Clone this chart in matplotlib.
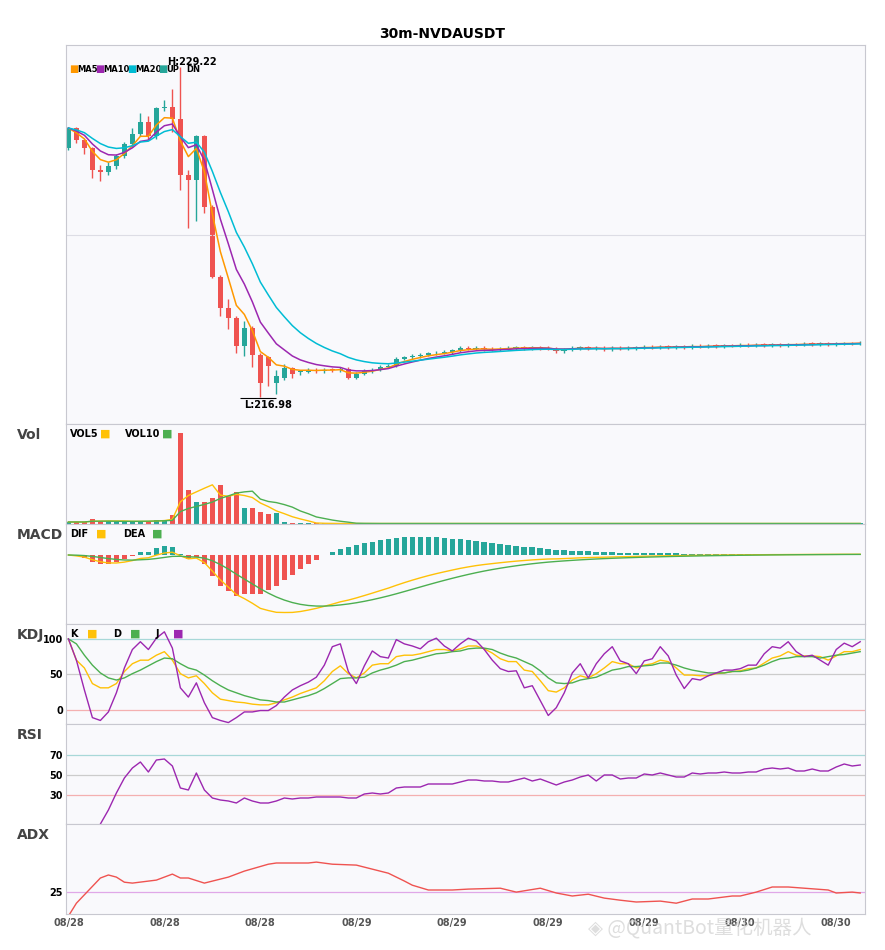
import numpy as np
import pandas as pd
import matplotlib
matplotlib.use('Agg')
import matplotlib.pyplot as plt

plt.rcParams['font.family'] = ['DejaVu Sans', 'Noto Sans CJK SC']

# ---- candle data (30m NVDAUSDT) ----
head_open = [226.22, 226.96, 226.51, 226.22, 225.40, 225.33, 225.55, 225.92, 226.36, 226.73,
             227.18, 226.66, 227.70, 227.75, 227.30, 225.21, 225.03, 226.66, 224.03, 221.43,
             220.28, 219.91, 218.87, 219.54, 218.54, 218.46, 217.50, 217.68, 218.05, 217.90]
head_close = [226.96, 226.51, 226.22, 225.40, 225.33, 225.55, 225.92, 226.36, 226.73, 227.18,
              226.66, 227.70, 227.75, 227.30, 225.21, 225.03, 226.66, 224.03, 221.43, 220.28,
              219.91, 218.87, 219.54, 218.54, 217.50, 218.13, 217.76, 218.05, 217.83, 217.92]
head_high = [227.00, 226.98, 226.55, 226.25, 225.60, 225.70, 226.00, 226.45, 226.95, 227.50,
             227.40, 227.75, 228.00, 228.40, 229.22, 225.40, 226.70, 226.70, 224.10, 221.50,
             220.60, 220.00, 219.80, 219.60, 218.60, 218.50, 218.00, 218.20, 218.10, 218.00]
head_low = [226.15, 226.40, 226.00, 225.10, 225.00, 225.20, 225.45, 225.85, 226.25, 226.65,
            226.50, 226.55, 227.60, 226.80, 224.66, 223.25, 223.50, 223.80, 221.40, 220.00,
            219.50, 218.60, 218.50, 218.10, 216.98, 217.40, 217.10, 217.60, 217.70, 217.80]
tail_close = [217.98, 217.95, 218.00, 217.98, 218.02, 217.70, 217.85, 217.95, 218.00, 218.10,
              218.15, 218.40, 218.45, 218.50, 218.55, 218.60, 218.62, 218.65, 218.72, 218.80,
              218.78, 218.80, 218.76, 218.74, 218.78, 218.80, 218.82, 218.80, 218.83, 218.80,
              218.78, 218.68, 218.75, 218.80, 218.82, 218.78, 218.80, 218.76, 218.80, 218.78,
              218.80, 218.82, 218.84, 218.82, 218.85, 218.83, 218.86, 218.84, 218.87, 218.85,
              218.88, 218.87, 218.90, 218.88, 218.91, 218.89, 218.92, 218.90, 218.93, 218.91,
              218.94, 218.93, 218.95, 218.94, 218.96, 218.95, 218.97, 218.98, 218.97, 218.99]
volume = [2, 2, 2, 5, 3, 3, 2, 2, 3, 3, 3, 4, 4, 9, 90, 34, 22, 22, 26, 39,
          28, 32, 16, 16, 12, 10, 11, 2, 1, 1] + [0.5] * 70

# ---- indicator values ----
kdj_k = [100, 70, 59, 37, 31, 31, 37, 54, 65, 70, 70, 77, 82, 70, 51, 45, 48, 37, 24, 15,
         13, 11, 10, 8, 7, 7, 10, 14, 18, 23, 27, 31, 41, 54, 62, 51, 45, 52, 63, 65,
         65, 75, 77, 77, 79, 82, 85, 85, 83, 86, 90, 90, 86, 80, 72, 68, 68, 56, 54, 41,
         27, 25, 31, 42, 48, 45, 51, 59, 68, 65, 65, 59, 63, 65, 70, 68, 59, 49, 49, 48,
         48, 51, 52, 54, 55, 58, 59, 66, 73, 76, 82, 77, 76, 76, 75, 70, 76, 82, 82, 85]
kdj_d = [100, 93, 77, 63, 52, 45, 42, 45, 51, 56, 62, 68, 73, 72, 65, 59, 56, 49, 41, 34,
         28, 24, 20, 17, 14, 13, 11, 11, 14, 17, 20, 24, 30, 37, 44, 45, 45, 46, 52, 56,
         59, 63, 68, 70, 73, 76, 79, 80, 82, 83, 86, 87, 87, 85, 80, 76, 73, 68, 63, 55,
         45, 38, 37, 38, 42, 44, 46, 51, 56, 58, 61, 61, 62, 63, 66, 66, 63, 59, 56, 54,
         52, 52, 52, 54, 54, 56, 59, 63, 68, 72, 73, 75, 75, 75, 73, 75, 77, 78, 80, 82]
kdj_j = [100, 70, 28, -11, -15, -3, 24, 59, 85, 96, 85, 101, 110, 87, 31, 18, 38, 10, -11, -15,
         -18, -11, -3, -3, -1, -1, 6, 18, 28, 34, 39, 46, 63, 89, 93, 54, 37, 62, 83, 75,
         73, 99, 93, 90, 86, 96, 101, 90, 83, 93, 101, 97, 85, 70, 58, 54, 55, 31, 34, 13,
         -8, 3, 24, 52, 65, 45, 65, 79, 89, 69, 65, 51, 69, 72, 89, 76, 49, 30, 44, 42,
         48, 52, 56, 56, 58, 63, 63, 79, 89, 87, 96, 82, 75, 77, 70, 63, 85, 94, 89, 96]
rsi_start = 4
rsi_vals = [1, 15, 32, 47, 57, 63, 53, 65, 66, 59, 37, 35, 52, 35, 27, 25, 24, 22, 27, 24,
            22, 22, 24, 27, 26, 27, 27, 28, 28, 28, 28, 27, 27, 31, 32, 31, 32, 37, 38, 38,
            38, 41, 41, 41, 41, 43, 45, 45, 44, 44, 43, 43, 45, 47, 44, 46, 43, 40, 43, 45,
            48, 50, 44, 50, 50, 46, 47, 47, 51, 50, 52, 50, 48, 48, 52, 51, 52, 52, 53, 52,
            52, 53, 53, 56, 57, 56, 57, 54, 54, 56, 54, 54, 58, 61, 59, 60]
adx_idx = [0, 1, 4, 5, 6, 7, 8, 11, 13, 14, 15, 17, 20, 22, 25, 26, 30, 31, 33, 36, 40, 42, 43,
           45, 48, 50, 54, 56, 59, 61, 63, 65, 67, 69, 71, 74, 76, 78, 80, 83, 84, 86, 88,
           90, 92, 95, 96, 98, 99]
adx_vals = [17.0, 21.3, 29.7, 30.7, 30.0, 28.3, 28.0, 29.0, 31.0, 29.7, 29.7, 28.0, 30.0, 32.0,
            34.3, 34.7, 34.7, 35.0, 34.3, 34.0, 31.3, 28.7, 27.3, 25.7, 25.7, 26.0, 26.3, 25.0,
            26.3, 24.7, 23.7, 24.3, 23.0, 22.3, 21.7, 22.0, 21.3, 22.7, 22.7, 23.7, 23.7, 25.0,
            26.7, 26.7, 26.3, 25.7, 24.7, 25.0, 24.7]

tick_pos = [0, 12, 24, 36, 48, 60, 72, 84, 96]
tick_labels = ['08/28', '08/28', '08/28', '08/29', '08/29', '08/29', '08/29', '08/30', '08/30']

UP, DN = '#26a69a', '#ef5350'

# assemble OHLC
opens = list(head_open)
closes = list(head_close)
highs = list(head_high)
lows = list(head_low)
for cl in tail_close:
    o = closes[-1]
    opens.append(o)
    closes.append(cl)
    highs.append(max(o, cl) + 0.06)
    lows.append(min(o, cl) - 0.06)
df = pd.DataFrame({'o': opens, 'h': highs, 'l': lows, 'c': closes, 'v': volume})
n = len(df)
x = np.arange(n)
c = df['c']

# moving averages / MACD from the candles
ma5 = c.ewm(span=4, adjust=False).mean()
ma10 = c.ewm(span=7, adjust=False).mean()
ma20 = c.ewm(span=12, adjust=False).mean()
vol5 = df['v'].rolling(5, min_periods=1).mean()
vol10 = df['v'].rolling(10, min_periods=1).mean()
dif = c.ewm(span=12, adjust=False).mean() - c.ewm(span=26, adjust=False).mean()
dea = dif.ewm(span=9, adjust=False).mean()
hist = 2 * (dif - dea)

fig = plt.figure(figsize=(8.85, 9.5), dpi=100)
W, H = 885, 950
L, R = 66, 865


def panel(top, bot):
    ax = fig.add_axes([L / W, 1 - bot / H, (R - L) / W, (bot - top) / H])
    ax.set_facecolor('#f9f9fc')
    for s in ax.spines.values():
        s.set_color('#c8c8d0')
    ax.set_xlim(-0.3, n - 0.4)
    ax.set_xticks([])
    ax.tick_params(axis='y', length=0, labelsize=7, pad=2)
    return ax


def bold_ticks(ax):
    for lbl in ax.get_yticklabels():
        lbl.set_fontweight('bold')


def label(txt, top):
    fig.text(17 / W, 1 - (top + 11) / H, txt, fontsize=10, fontweight='bold', color='#444444', va='center')


colors = [UP if cc >= oo else DN for oo, cc in zip(opens, closes)]

# main
ax = panel(45, 424)
ax.set_ylim(215.98, 230.04)
ax.set_yticks([])
ax.axhline(223.0, color='#dddde5', lw=0.8)
body = [abs(cc - oo) if abs(cc - oo) > 0.03 else 0.03 for oo, cc in zip(opens, closes)]
ax.vlines(x, df['l'], df['h'], color=colors, lw=1)
ax.bar(x, body, bottom=np.minimum(opens, closes), width=0.7, color=colors)
ax.plot(x, ma5, color='#ff9800', lw=1.1)
ax.plot(x, ma10, color='#9c27b0', lw=1.1)
ax.plot(x, ma20, color='#00bcd4', lw=1.1)
ax.text(15.5, 229.22, 'H:229.22', fontsize=7, fontweight='bold', ha='center', va='bottom')
imin = int(np.argmin(lows))
ax.hlines(lows[imin] - 0.02, imin - 2.5, imin + 2, color='black', lw=0.8)
ax.text(imin + 1, lows[imin] - 0.12, 'L:216.98', fontsize=7, fontweight='bold', ha='center', va='top')
leg = [('MA5', '#ff9800', 69), ('MA10', '#9c27b0', 95), ('MA20', '#00bcd4', 127)]
for name, col, px in leg:
    fig.text(px / W, 1 - 69 / H, '■', color=col, fontsize=7, va='center')
    fig.text((px + 8) / W, 1 - 69 / H, name, fontsize=6, fontweight='bold', va='center')
fig.text(158 / W, 1 - 69 / H, '■', color=UP, fontsize=7, va='center')
fig.text(166 / W, 1 - 69 / H, 'UP', fontsize=6, fontweight='bold', va='center')
fig.text(186 / W, 1 - 69 / H, 'DN', fontsize=6, fontweight='bold', va='center')

# volume
ax = panel(424, 524)
label('Vol', 424)
ax.set_ylim(0, 99)
ax.set_yticks([])
ax.bar(x, df['v'], width=0.7, color=colors)
ax.plot(x, vol5, color='#ffc107', lw=1)
ax.plot(x, vol10, color='#4caf50', lw=1)
fig.text(70 / W, 1 - 434 / H, 'VOL5', fontsize=7, fontweight='bold', va='center')
fig.text(100 / W, 1 - 434 / H, '■', color='#ffc107', fontsize=8, va='center')
fig.text(125 / W, 1 - 434 / H, 'VOL10', fontsize=7, fontweight='bold', va='center')
fig.text(162 / W, 1 - 434 / H, '■', color='#4caf50', fontsize=8, va='center')

# MACD
ax = panel(524, 624)
label('MACD', 524)
lo_m = min(hist.min(), dif.min())
ax.set_ylim(lo_m * 1.2, -lo_m * 1.2 * 31 / 69)
ax.set_yticks([])
ax.bar(x, hist, width=0.7, color=[UP if v >= 0 else DN for v in hist])
ax.plot(x, dif, color='#ffc107', lw=1)
ax.plot(x, dea, color='#4caf50', lw=1)
fig.text(70 / W, 1 - 534 / H, 'DIF', fontsize=7, fontweight='bold', va='center')
fig.text(96 / W, 1 - 534 / H, '■', color='#ffc107', fontsize=8, va='center')
fig.text(123 / W, 1 - 534 / H, 'DEA', fontsize=7, fontweight='bold', va='center')
fig.text(152 / W, 1 - 534 / H, '■', color='#4caf50', fontsize=8, va='center')

# KDJ
ax = panel(624, 724)
label('KDJ', 624)
ax.set_ylim(-20, 121)
ax.set_yticks([0, 50, 100])
bold_ticks(ax)
ax.axhline(100, color='#a8d8d8', lw=0.9)
ax.axhline(50, color='#cccccc', lw=0.9)
ax.axhline(0, color='#f4b0b0', lw=0.9)
ax.plot(x, kdj_k, color='#ffc107', lw=1)
ax.plot(x, kdj_d, color='#4caf50', lw=1)
ax.plot(x, kdj_j, color='#9c27b0', lw=1)
for name, col, px in [('K', '#ffc107', 70), ('D', '#4caf50', 113), ('J', '#9c27b0', 156)]:
    fig.text(px / W, 1 - 634 / H, name, fontsize=7, fontweight='bold', va='center')
    fig.text((px + 17) / W, 1 - 634 / H, '■', color=col, fontsize=8, va='center')

# RSI
ax = panel(724, 824)
label('RSI', 724)
ax.set_ylim(1, 101)
ax.set_yticks([30, 50, 70])
bold_ticks(ax)
ax.axhline(70, color='#a8d8d8', lw=0.9)
ax.axhline(50, color='#cccccc', lw=0.9)
ax.axhline(30, color='#f4b0b0', lw=0.9)
ax.plot(np.arange(rsi_start, rsi_start + len(rsi_vals)), rsi_vals, color='#9c27b0', lw=1)

# ADX
ax = panel(824, 914)
label('ADX', 824)
ax.set_ylim(17.7, 47.7)
ax.set_yticks([25])
bold_ticks(ax)
ax.axhline(25, color='#e0a8e8', lw=0.9)
ax.plot(adx_idx, adx_vals, color='#ef5350', lw=1)
ax.set_xticks(tick_pos)
ax.set_xticklabels(tick_labels, fontsize=7, fontweight='bold', color='#555555')
ax.tick_params(axis='x', length=0, pad=3)

fig.text(0.5, 1 - 34 / H, '30m-NVDAUSDT', ha='center', va='center', fontsize=10, fontweight='bold')
fig.text(588 / W, 1 - 929 / H, '◈ @QuantBot量化机器人', fontsize=14, color='#d0d0d0', alpha=0.7,
         va='center', family=['Noto Sans CJK SC', 'DejaVu Sans'])

fig.savefig('out.png', dpi=100)
